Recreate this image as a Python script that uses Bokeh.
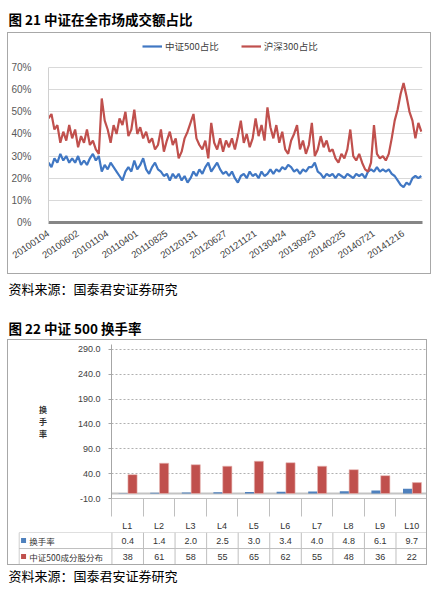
from bokeh.plotting import figure
from bokeh.models import (Range1d, FixedTicker, PrintfTickFormatter, NumeralTickFormatter,
                          Legend, LegendItem, Span, ColumnDataSource)
from bokeh.layouts import column
from bokeh.transform import dodge
from bokeh.core.properties import value
from bokeh.embed import file_html
from bokeh.resources import INLINE

CJK = "Noto Sans CJK SC"
LAT = "Liberation Sans"

# ---------------- chart 1 data ----------------
TITLE1 = "图 21  中证在全市场成交额占比"
SOURCE = "资料来源：国泰君安证券研究"
SERIES1_NAME = "中证500占比"
SERIES2_NAME = "沪深300占比"
DAY_IDX = list(range(0, 1261, 10))   # trading-day index of each sample
HS300 = [47, 49, 42, 44, 36, 41, 37, 44, 38, 42,
         34, 39, 36, 42, 35, 37, 33, 31, 56, 46,
         42, 36, 44, 40, 47, 44, 50, 39, 42, 51,
         40, 43, 38, 41, 36, 38, 33, 35, 42, 32,
         37, 41, 35, 38, 29, 32, 38, 41, 45, 49,
         38, 35, 33, 37, 29, 45, 36, 33, 38, 32,
         37, 34, 38, 33, 39, 46, 36, 40, 34, 38,
         47, 39, 44, 37, 52, 43, 38, 44, 36, 41,
         33, 31, 37, 40, 44, 33, 37, 31, 35, 45,
         30, 33, 39, 34, 37, 32, 33, 29, 27, 31,
         29, 33, 42, 30, 28, 31, 27, 24, 23, 27,
         44, 31, 29, 30, 28, 31, 38, 46, 51, 58,
         63, 57, 50, 46, 38, 45, 41]
ZZ500 = [27, 25, 29, 27, 31, 28, 30, 27, 29, 27,
         30, 26, 28, 26, 29, 31, 28, 30, 23, 26,
         24, 27, 25, 23, 21, 19, 23, 25, 23, 28,
         24, 26, 29, 24, 22, 25, 27, 24, 23, 21,
         22, 19, 22, 20, 22, 19, 21, 18, 20, 23,
         21, 24, 22, 25, 27, 23, 25, 27, 24, 22,
         23, 21, 23, 20, 18, 21, 22, 20, 23, 21,
         22, 20, 23, 21, 22, 24, 22, 24, 23, 25,
         24, 26, 25, 23, 24, 22, 24, 23, 25, 25,
         27, 23, 22, 20, 22, 21, 22, 20, 22, 21,
         20, 22, 21, 20, 22, 21, 22, 20, 23, 24,
         23, 25, 23, 24, 23, 24, 22, 21, 19, 17,
         16, 18, 17, 20, 21, 20, 21]
TICK_IDX = [0, 100, 200, 300, 400, 500, 600, 700, 800, 900, 1000, 1100, 1200]
TICK_DATES = ["20100104", "20100602", "20101104", "20110401", "20110825", "20120131",
              "20120627", "20121121", "20130424", "20130923", "20140225", "20140721",
              "20141216"]
Y1_TICKS = [0, 10, 20, 30, 40, 50, 60, 70]

# ---------------- chart 2 data ----------------
TITLE2 = "图 22  中证 500  换手率"
Y2_LABEL = "换\n手\n率"
LEVELS = ["L1", "L2", "L3", "L4", "L5", "L6", "L7", "L8", "L9", "L10"]
TURNOVER = [0.4, 1.4, 2.0, 2.5, 3.0, 3.4, 4.0, 4.8, 6.1, 9.7]
CONSTIT = [38, 61, 58, 55, 65, 62, 55, 48, 36, 22]
ROW_NAMES = ["换手率", "中证500成分股分布"]
Y2_TICKS = [-10, 40, 90, 140, 190, 240, 290]

BLUE = "#4077C3"
RED = "#C0504D"
BAR_BLUE = "#4F81BD"
BORDER = "1px solid #a8a8a8"
GRIDC = "#bfbfbf"


def base_fig(**kw):
    return figure(output_backend="svg", toolbar_location=None, frame_align=False, **kw)


def text_fig(txt, h, y_top, size, bold):
    w = 426
    p = base_fig(width=w, height=h, x_range=Range1d(0, w), y_range=Range1d(0, h),
                 min_border=0, x_axis_type=None, y_axis_type=None)
    p.outline_line_color = None
    p.text(x=[1], y=[h - y_top], text=[txt], text_font=value(CJK),
           text_font_size=f"{size}px", text_font_style="bold" if bold else "normal",
           text_baseline="middle", text_align="left", text_color="#000000")
    return p


# ---------------- chart 1 ----------------
t1 = text_fig(TITLE1, 32, 18, 13.5, True)

p1 = base_fig(width=424, height=242, x_range=Range1d(0, 1264), y_range=Range1d(0, 84),
              min_border_left=40, min_border_right=10, min_border_top=3, min_border_bottom=53)
p1.styles = {"border": BORDER}
p1.outline_line_color = None
p1.yaxis.ticker = FixedTicker(ticks=Y1_TICKS)
p1.yaxis.formatter = PrintfTickFormatter(format="%d%%")
p1.yaxis.bounds = (0, 70)
p1.yaxis.axis_line_color = "#d0d0d0"
p1.yaxis.major_tick_line_color = None
p1.yaxis.minor_tick_line_color = None
p1.yaxis.major_label_standoff = 11
p1.yaxis.major_label_text_font = LAT
p1.yaxis.major_label_text_font_size = "10px"
p1.yaxis.major_label_text_color = "#595959"
p1.ygrid.ticker = FixedTicker(ticks=Y1_TICKS)
p1.ygrid.grid_line_color = "#d9d9d9"
p1.xgrid.grid_line_color = None
p1.xaxis.ticker = FixedTicker(ticks=TICK_IDX)
p1.xaxis.major_label_overrides = {i: d for i, d in zip(TICK_IDX, TICK_DATES)}
p1.xaxis.major_label_orientation = 0.6
p1.xaxis.axis_line_color = "#868686"
p1.xaxis.axis_line_width = 3
p1.xaxis.major_tick_line_color = None
p1.xaxis.minor_tick_line_color = None
p1.xaxis.major_label_standoff = 4
p1.xaxis.major_label_text_font = LAT
p1.xaxis.major_label_text_font_size = "9.5px"
p1.xaxis.major_label_text_color = "#404040"

rb = p1.line(DAY_IDX, ZZ500, line_color=BLUE, line_width=2.2)
rr = p1.line(DAY_IDX, HS300, line_color=RED, line_width=2.2)
leg = Legend(items=[LegendItem(label=SERIES1_NAME, renderers=[rb]),
                    LegendItem(label=SERIES2_NAME, renderers=[rr])],
             location=(94, 169), orientation="horizontal", padding=0, margin=0,
             spacing=22, glyph_width=20, glyph_height=12, label_height=12,
             label_standoff=3, label_text_font=CJK, label_text_font_size="9.5px",
             label_text_color="#404040", border_line_color=None,
             background_fill_alpha=0)
p1.add_layout(leg)

s1 = text_fig(SOURCE, 28, 14, 13, False)

# ---------------- chart 2 ----------------
t2 = text_fig(TITLE2, 37, 25, 13.5, True)

n = len(LEVELS)
centers = [i + 0.5 for i in range(n)]      # slot of each level on the category axis
p2 = base_fig(width=420, height=193, x_range=Range1d(0, n), y_range=Range1d(-10, 300),
              min_border_left=103, min_border_right=1, min_border_top=4, min_border_bottom=18)
p2.styles = {"border-top": BORDER, "border-left": BORDER, "border-right": BORDER}
p2.outline_line_color = None
p2.yaxis.ticker = FixedTicker(ticks=Y2_TICKS)
p2.yaxis.formatter = NumeralTickFormatter(format="0.0")
p2.yaxis.axis_line_color = "#a6a6a6"
p2.yaxis.major_tick_line_color = "#a6a6a6"
p2.yaxis.major_tick_out = 3
p2.yaxis.major_tick_in = 0
p2.yaxis.minor_tick_line_color = None
p2.yaxis.major_label_standoff = 8
p2.yaxis.major_label_text_font = LAT
p2.yaxis.major_label_text_font_size = "9px"
p2.yaxis.major_label_text_color = "#404040"
p2.yaxis.axis_label = Y2_LABEL
p2.yaxis.axis_label_orientation = "horizontal"
p2.yaxis.axis_label_standoff = 28
p2.yaxis.axis_label_text_font = CJK
p2.yaxis.axis_label_text_font_size = "8px"
p2.yaxis.axis_label_text_font_style = "bold"
p2.yaxis.axis_label_text_line_height = 1.1
p2.yaxis.axis_label_text_baseline = "middle"
p2.yaxis.axis_label_text_color = "#333333"
p2.ygrid.ticker = FixedTicker(ticks=Y2_TICKS)
p2.ygrid.grid_line_color = "#b0b0b0"
p2.ygrid.grid_line_dash = "2 2"
p2.xgrid.grid_line_color = None

# header row of the data table = the category axis
p2.xaxis.ticker = FixedTicker(ticks=centers, minor_ticks=list(range(n + 1)))
p2.xaxis.major_label_overrides = {c: lv for c, lv in zip(centers, LEVELS)}
p2.xaxis.axis_line_color = GRIDC
p2.xaxis.major_tick_line_color = None
p2.xaxis.minor_tick_line_color = GRIDC
p2.xaxis.minor_tick_out = 18
p2.xaxis.minor_tick_in = 0
p2.xaxis.major_label_standoff = 4
p2.xaxis.major_label_text_font = LAT
p2.xaxis.major_label_text_font_size = "9px"
p2.xaxis.major_label_text_color = "#333333"

p2.add_layout(Span(location=0, dimension="width", line_color="#c4c4c4",
                   line_width=2, level="underlay"))
src2 = ColumnDataSource(dict(pos=centers, turnover=TURNOVER, constit=CONSTIT))
p2.vbar(x=dodge("pos", -0.13), top="turnover", width=0.29,
        source=src2, fill_color=BAR_BLUE, line_color=None)
p2.vbar(x=dodge("pos", 0.165), top="constit", width=0.29,
        source=src2, fill_color=RED, line_color="#e8b8b6", line_width=0.6)

# value rows of the data table
LEFT = -2.943
p3 = base_fig(width=420, height=33, x_range=Range1d(-2.96, n + 0.03), y_range=Range1d(-0.06, 2.0),
              x_axis_type=None, y_axis_type=None,
              min_border_left=10, min_border_right=0, min_border_top=0, min_border_bottom=0)
p3.styles = {"border-left": BORDER, "border-right": BORDER, "border-bottom": BORDER}
p3.outline_line_color = None
p3.segment(x0=[LEFT, LEFT, LEFT], y0=[2, 1, 0], x1=[n] * 3, y1=[2, 1, 0],
           line_color=GRIDC, line_width=1)
p3.segment(x0=list(range(n + 1)) + [LEFT], y0=[0] * (n + 2), x1=list(range(n + 1)) + [LEFT],
           y1=[2] * (n + 2), line_color=GRIDC, line_width=1)
tkw = dict(text_font=value(LAT), text_font_size="9px", text_color="#333333",
           text_align="center", text_baseline="middle")
p3.text(x=centers, y=[1.5] * n, text=[f"{v:.1f}" for v in TURNOVER], **tkw)
p3.text(x=centers, y=[0.5] * n, text=[str(v) for v in CONSTIT], **tkw)
p3.scatter(x=[-2.80, -2.80], y=[1.5, 0.5], marker="square", size=5,
           fill_color=[BAR_BLUE, RED], line_color=None)
p3.text(x=[-2.62, -2.62], y=[1.5, 0.5], text=ROW_NAMES, text_font=value(CJK),
        text_font_size="8.5px", text_color="#333333", text_align="left",
        text_baseline="middle")

s2 = text_fig(SOURCE, 19, 9.5, 13, False)

layout = column(t1, p1, s1, t2, p2, p3, s2, spacing=0, margin=(0, 0, 0, 7))
open("out.html", "w").write(file_html(layout, INLINE))
